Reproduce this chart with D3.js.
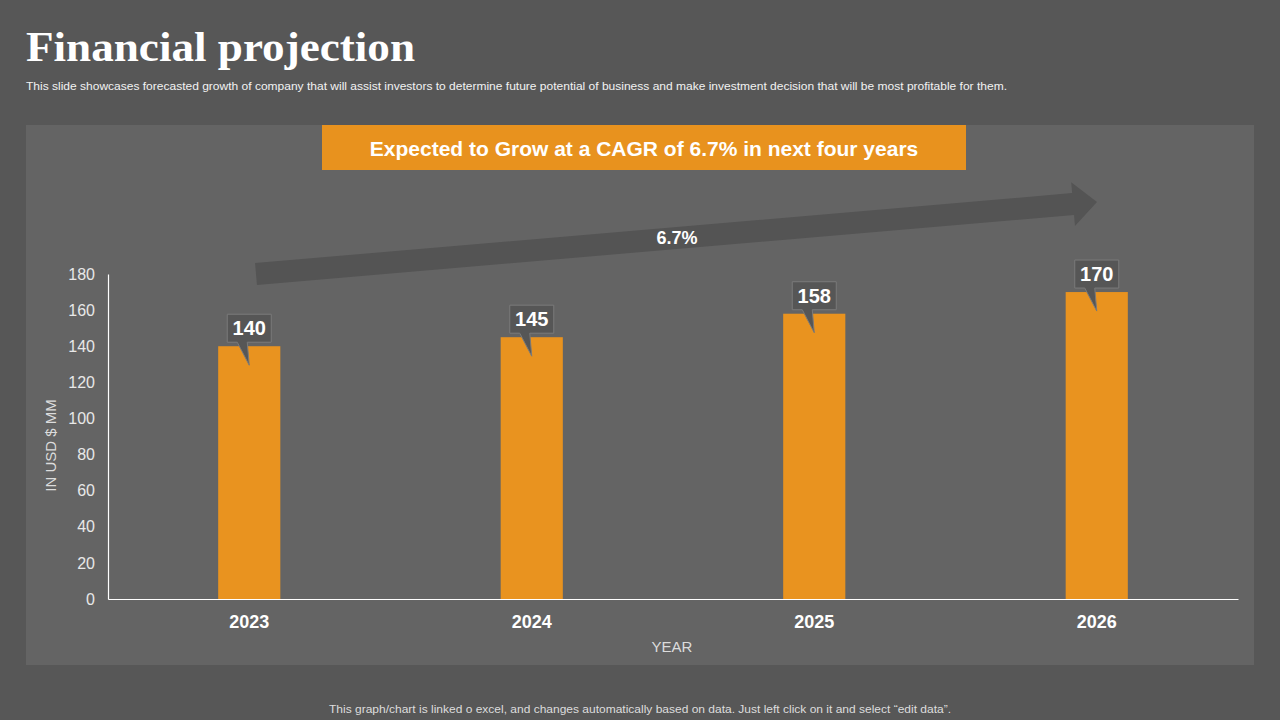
<!DOCTYPE html>
<html>
<head>
<meta charset="utf-8">
<script src="https://cdn.jsdelivr.net/npm/d3@7"></script>
<style>
  body { margin: 0; background: #575757; }
  svg { display: block; }
</style>
</head>
<body>
<div id="chart"></div>
<script>
// chart data
var years = ['2023', '2024', '2025', '2026'];
var revenue = [140, 145, 158, 170];
var yTicks = [0, 20, 40, 60, 80, 100, 120, 140, 160, 180];
var cagrLabel = '6.7%';

var W = 1280, H = 720;
var margin = { top: 274, right: 42, bottom: 121, left: 108 };
var width = W - margin.left - margin.right;
var height = H - margin.top - margin.bottom;

var svg = d3.select('#chart').append('svg')
    .attr('width', W)
    .attr('height', H);

svg.append('rect').attr('width', W).attr('height', H).attr('fill', '#575757');

// title + subtitle
svg.append('text')
    .attr('x', 26).attr('y', 61)
    .attr('textLength', 389)
    .attr('lengthAdjust', 'spacingAndGlyphs')
    .style('font-family', '"Liberation Serif", serif')
    .style('font-size', '43px')
    .style('font-weight', 'bold')
    .style('fill', '#ffffff')
    .text('Financial projection');

svg.append('text')
    .attr('x', 26).attr('y', 90)
    .attr('textLength', 981)
    .attr('lengthAdjust', 'spacingAndGlyphs')
    .style('font-family', 'Liberation Sans, Arial, sans-serif')
    .style('font-size', '11px')
    .style('fill', '#f2f2f2')
    .text('This slide showcases forecasted growth of company that will assist investors to determine future potential of business and make investment decision that will be most profitable for them.');

// panel
svg.append('rect')
    .attr('x', 26).attr('y', 125)
    .attr('width', 1228).attr('height', 540)
    .attr('fill', '#646464');

// banner
svg.append('rect')
    .attr('x', 322).attr('y', 125)
    .attr('width', 644).attr('height', 45)
    .attr('fill', '#e8921e');
svg.append('text')
    .attr('x', 644).attr('y', 156)
    .attr('text-anchor', 'middle')
    .style('font-family', 'Liberation Sans, Arial, sans-serif')
    .style('font-size', '21px')
    .style('font-weight', 'bold')
    .style('fill', '#ffffff')
    .text('Expected to Grow at a CAGR of 6.7% in next four years');

// growth arrow
var arrowStart = [256, 274], arrowTip = [1097, 202];
var dx = arrowTip[0] - arrowStart[0], dy = arrowTip[1] - arrowStart[1];
var len = Math.sqrt(dx * dx + dy * dy);
var ang = Math.atan2(dy, dx) * 180 / Math.PI;
var shaftH = 11, headH = 22, headL = 24;
svg.append('path')
    .attr('transform', 'translate(' + arrowStart + ') rotate(' + ang + ')')
    .attr('d', d3.line()([
        [0, -shaftH], [len - headL, -shaftH], [len - headL, -headH],
        [len, 0], [len - headL, headH], [len - headL, shaftH], [0, shaftH]
    ]) + 'Z')
    .attr('fill', '#545454');
svg.append('text')
    .attr('x', 677).attr('y', 244)
    .attr('text-anchor', 'middle')
    .style('font-family', 'Liberation Sans, Arial, sans-serif')
    .style('font-size', '18px')
    .style('font-weight', 'bold')
    .style('fill', '#ffffff')
    .text(cagrLabel);

// scales
var x = d3.scaleBand().domain(years).range([0, width]).paddingInner(0.78).paddingOuter(0.39);
var y = d3.scaleLinear().domain([0, 180]).range([height, 0]);

var g = svg.append('g').attr('transform', 'translate(' + margin.left + ',' + margin.top + ')');

// bars
g.selectAll('.bar')
    .data(revenue)
    .enter().append('rect')
    .attr('class', 'bar')
    .attr('x', (d, i) => x(years[i]))
    .attr('y', d => y(d))
    .attr('width', x.bandwidth())
    .attr('height', d => height - y(d))
    .attr('fill', '#e9931f');

// axes
var yAxis = d3.axisLeft(y).tickValues(yTicks).tickSize(0).tickPadding(13);
var yg = g.append('g').call(yAxis);
yg.select('.domain').attr('stroke', '#ffffff').attr('stroke-width', 1.2);
yg.selectAll('text')
    .style('font-family', 'Liberation Sans, Arial, sans-serif')
    .style('font-size', '16px')
    .style('fill', '#e8e8e8');

var xAxis = d3.axisBottom(x).tickSize(0).tickPadding(16);
var xg = g.append('g').attr('transform', 'translate(0,' + height + ')').call(xAxis);
xg.select('.domain').attr('stroke', '#ffffff').attr('stroke-width', 1.2);
xg.selectAll('text')
    .style('font-family', 'Liberation Sans, Arial, sans-serif')
    .style('font-size', '18px')
    .style('font-weight', 'bold')
    .style('fill', '#ffffff');

// axis titles
svg.append('text')
    .attr('transform', 'translate(56,' + (margin.top + height / 2 + 9) + ') rotate(-90)')
    .attr('text-anchor', 'middle')
    .style('font-family', 'Liberation Sans, Arial, sans-serif')
    .style('font-size', '15px')
    .style('fill', '#dcdcdc')
    .text('IN USD $ MM');
svg.append('text')
    .attr('x', 672).attr('y', 652)
    .attr('text-anchor', 'middle')
    .style('font-family', 'Liberation Sans, Arial, sans-serif')
    .style('font-size', '15px')
    .style('fill', '#dcdcdc')
    .text('YEAR');

// callout labels
var callouts = g.selectAll('.callout')
    .data(revenue)
    .enter().append('g')
    .attr('class', 'callout')
    .attr('transform', (d, i) => 'translate(' + (x(years[i]) + x.bandwidth() / 2) + ',' + y(d) + ')');

callouts.append('path')
    .attr('d', 'M-22,-32 H22 V-4 H-2 L0,19 L-12,-4 H-22 Z')
    .attr('fill', '#565656')
    .attr('stroke', '#7a7a7a')
    .attr('stroke-width', 1);
callouts.append('text')
    .attr('x', 0).attr('y', -11)
    .attr('text-anchor', 'middle')
    .style('font-family', 'Liberation Sans, Arial, sans-serif')
    .style('font-size', '20px')
    .style('font-weight', 'bold')
    .style('fill', '#ffffff')
    .text(d => d);

// footer
svg.append('text')
    .attr('x', 640).attr('y', 713)
    .attr('text-anchor', 'middle')
    .attr('textLength', 622)
    .attr('lengthAdjust', 'spacingAndGlyphs')
    .style('font-family', 'Liberation Sans, Arial, sans-serif')
    .style('font-size', '11px')
    .style('fill', '#dddddd')
    .text('This graph/chart is linked o excel, and changes automatically based on data. Just left click on it and select \u201cedit data\u201d.');
</script>
</body>
</html>
